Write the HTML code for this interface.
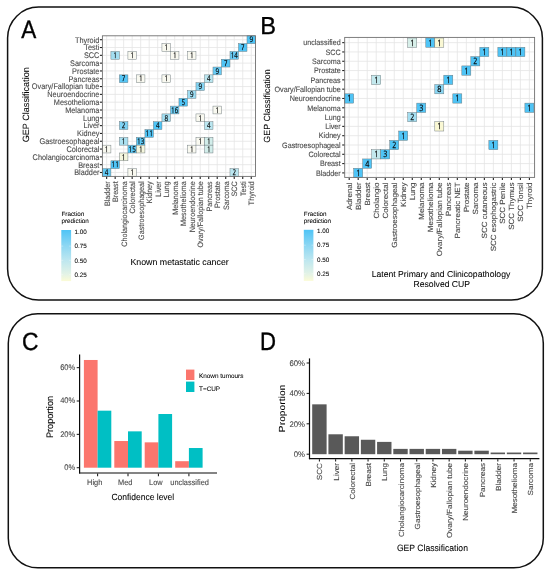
<!DOCTYPE html>
<html lang="en">
<head>
<meta charset="utf-8">
<title>GEP classification figure</title>
<style>
html,body{margin:0;padding:0;background:#fff;}
body{width:550px;height:573px;overflow:hidden;font-family:"Liberation Sans",Arial,Helvetica,sans-serif;}
svg{display:block;filter:blur(0.4px);}
</style>
</head>
<body>
<svg width="550" height="573" viewBox="0 0 550 573" font-family="'Liberation Sans', Arial, Helvetica, sans-serif" text-rendering="geometricPrecision">
<rect x="7.6" y="7.1" width="534.8" height="293" rx="31" ry="31" fill="#fff" stroke="#111" stroke-width="1.5"/>
<rect x="8.3" y="313.8" width="535" height="254.0" rx="29.5" ry="29.5" fill="#fff" stroke="#111" stroke-width="1.5"/>
<text transform="translate(21.30 37.70) scale(0.900 1.000)" font-size="25.0" text-anchor="start" fill="#000" stroke="#000" stroke-width="0.35">A</text>
<text transform="translate(260.20 34.40) scale(0.960 1.000)" font-size="24.6" text-anchor="start" fill="#000" stroke="#000" stroke-width="0.35">B</text>
<text transform="translate(22.00 349.90) scale(0.930 1.010)" font-size="24.6" text-anchor="start" fill="#000" stroke="#000" stroke-width="0.35">C</text>
<text transform="translate(260.00 349.80) scale(0.900 1.030)" font-size="24.6" text-anchor="start" fill="#000" stroke="#000" stroke-width="0.35">D</text>
<rect x="102.40" y="35.80" width="153.10" height="140.60" fill="#fff"/>
<line x1="106.65" y1="35.80" x2="106.65" y2="176.40" stroke="#e4e4e4" stroke-width="0.8"/>
<line x1="115.16" y1="35.80" x2="115.16" y2="176.40" stroke="#e4e4e4" stroke-width="0.8"/>
<line x1="123.66" y1="35.80" x2="123.66" y2="176.40" stroke="#e4e4e4" stroke-width="0.8"/>
<line x1="132.17" y1="35.80" x2="132.17" y2="176.40" stroke="#e4e4e4" stroke-width="0.8"/>
<line x1="140.68" y1="35.80" x2="140.68" y2="176.40" stroke="#e4e4e4" stroke-width="0.8"/>
<line x1="149.18" y1="35.80" x2="149.18" y2="176.40" stroke="#e4e4e4" stroke-width="0.8"/>
<line x1="157.69" y1="35.80" x2="157.69" y2="176.40" stroke="#e4e4e4" stroke-width="0.8"/>
<line x1="166.19" y1="35.80" x2="166.19" y2="176.40" stroke="#e4e4e4" stroke-width="0.8"/>
<line x1="174.70" y1="35.80" x2="174.70" y2="176.40" stroke="#e4e4e4" stroke-width="0.8"/>
<line x1="183.20" y1="35.80" x2="183.20" y2="176.40" stroke="#e4e4e4" stroke-width="0.8"/>
<line x1="191.71" y1="35.80" x2="191.71" y2="176.40" stroke="#e4e4e4" stroke-width="0.8"/>
<line x1="200.21" y1="35.80" x2="200.21" y2="176.40" stroke="#e4e4e4" stroke-width="0.8"/>
<line x1="208.72" y1="35.80" x2="208.72" y2="176.40" stroke="#e4e4e4" stroke-width="0.8"/>
<line x1="217.22" y1="35.80" x2="217.22" y2="176.40" stroke="#e4e4e4" stroke-width="0.8"/>
<line x1="225.73" y1="35.80" x2="225.73" y2="176.40" stroke="#e4e4e4" stroke-width="0.8"/>
<line x1="234.24" y1="35.80" x2="234.24" y2="176.40" stroke="#e4e4e4" stroke-width="0.8"/>
<line x1="242.74" y1="35.80" x2="242.74" y2="176.40" stroke="#e4e4e4" stroke-width="0.8"/>
<line x1="251.25" y1="35.80" x2="251.25" y2="176.40" stroke="#e4e4e4" stroke-width="0.8"/>
<line x1="102.40" y1="172.49" x2="255.50" y2="172.49" stroke="#e4e4e4" stroke-width="0.8"/>
<line x1="102.40" y1="164.68" x2="255.50" y2="164.68" stroke="#e4e4e4" stroke-width="0.8"/>
<line x1="102.40" y1="156.87" x2="255.50" y2="156.87" stroke="#e4e4e4" stroke-width="0.8"/>
<line x1="102.40" y1="149.06" x2="255.50" y2="149.06" stroke="#e4e4e4" stroke-width="0.8"/>
<line x1="102.40" y1="141.25" x2="255.50" y2="141.25" stroke="#e4e4e4" stroke-width="0.8"/>
<line x1="102.40" y1="133.44" x2="255.50" y2="133.44" stroke="#e4e4e4" stroke-width="0.8"/>
<line x1="102.40" y1="125.63" x2="255.50" y2="125.63" stroke="#e4e4e4" stroke-width="0.8"/>
<line x1="102.40" y1="117.82" x2="255.50" y2="117.82" stroke="#e4e4e4" stroke-width="0.8"/>
<line x1="102.40" y1="110.01" x2="255.50" y2="110.01" stroke="#e4e4e4" stroke-width="0.8"/>
<line x1="102.40" y1="102.19" x2="255.50" y2="102.19" stroke="#e4e4e4" stroke-width="0.8"/>
<line x1="102.40" y1="94.38" x2="255.50" y2="94.38" stroke="#e4e4e4" stroke-width="0.8"/>
<line x1="102.40" y1="86.57" x2="255.50" y2="86.57" stroke="#e4e4e4" stroke-width="0.8"/>
<line x1="102.40" y1="78.76" x2="255.50" y2="78.76" stroke="#e4e4e4" stroke-width="0.8"/>
<line x1="102.40" y1="70.95" x2="255.50" y2="70.95" stroke="#e4e4e4" stroke-width="0.8"/>
<line x1="102.40" y1="63.14" x2="255.50" y2="63.14" stroke="#e4e4e4" stroke-width="0.8"/>
<line x1="102.40" y1="55.33" x2="255.50" y2="55.33" stroke="#e4e4e4" stroke-width="0.8"/>
<line x1="102.40" y1="47.52" x2="255.50" y2="47.52" stroke="#e4e4e4" stroke-width="0.8"/>
<line x1="102.40" y1="39.71" x2="255.50" y2="39.71" stroke="#e4e4e4" stroke-width="0.8"/>
<rect x="246.99" y="35.80" width="8.51" height="7.81" fill="#4fc4f6" stroke="#687478" stroke-width="0.45"/>
<rect x="238.49" y="43.61" width="8.51" height="7.81" fill="#4fc4f6" stroke="#687478" stroke-width="0.45"/>
<rect x="161.94" y="43.61" width="8.51" height="7.81" fill="#f9f9f0" stroke="#687478" stroke-width="0.45"/>
<rect x="110.91" y="51.42" width="8.51" height="7.81" fill="#a3def1" stroke="#687478" stroke-width="0.45"/>
<rect x="127.92" y="51.42" width="8.51" height="7.81" fill="#f9f9f0" stroke="#687478" stroke-width="0.45"/>
<rect x="170.44" y="51.42" width="8.51" height="7.81" fill="#f9f9f0" stroke="#687478" stroke-width="0.45"/>
<rect x="187.46" y="51.42" width="8.51" height="7.81" fill="#f9f9f0" stroke="#687478" stroke-width="0.45"/>
<rect x="229.98" y="51.42" width="8.51" height="7.81" fill="#67cbf5" stroke="#687478" stroke-width="0.45"/>
<rect x="221.48" y="59.23" width="8.51" height="7.81" fill="#4fc4f6" stroke="#687478" stroke-width="0.45"/>
<rect x="212.97" y="67.04" width="8.51" height="7.81" fill="#67cbf5" stroke="#687478" stroke-width="0.45"/>
<rect x="119.41" y="74.86" width="8.51" height="7.81" fill="#56c6f6" stroke="#687478" stroke-width="0.45"/>
<rect x="136.42" y="74.86" width="8.51" height="7.81" fill="#f9f9f0" stroke="#687478" stroke-width="0.45"/>
<rect x="161.94" y="74.86" width="8.51" height="7.81" fill="#f9f9f0" stroke="#687478" stroke-width="0.45"/>
<rect x="204.47" y="74.86" width="8.51" height="7.81" fill="#bbe6f0" stroke="#687478" stroke-width="0.45"/>
<rect x="195.96" y="82.67" width="8.51" height="7.81" fill="#83d4f3" stroke="#687478" stroke-width="0.45"/>
<rect x="187.46" y="90.48" width="8.51" height="7.81" fill="#9cdcf2" stroke="#687478" stroke-width="0.45"/>
<rect x="178.95" y="98.29" width="8.51" height="7.81" fill="#4fc4f6" stroke="#687478" stroke-width="0.45"/>
<rect x="170.44" y="106.10" width="8.51" height="7.81" fill="#6bcdf5" stroke="#687478" stroke-width="0.45"/>
<rect x="212.97" y="106.10" width="8.51" height="7.81" fill="#f9f9f0" stroke="#687478" stroke-width="0.45"/>
<rect x="161.94" y="113.91" width="8.51" height="7.81" fill="#a3def1" stroke="#687478" stroke-width="0.45"/>
<rect x="195.96" y="113.91" width="8.51" height="7.81" fill="#f9f9f0" stroke="#687478" stroke-width="0.45"/>
<rect x="119.41" y="121.72" width="8.51" height="7.81" fill="#7ed2f4" stroke="#687478" stroke-width="0.45"/>
<rect x="153.43" y="121.72" width="8.51" height="7.81" fill="#4fc4f6" stroke="#687478" stroke-width="0.45"/>
<rect x="204.47" y="121.72" width="8.51" height="7.81" fill="#bbe6f0" stroke="#687478" stroke-width="0.45"/>
<rect x="144.93" y="129.53" width="8.51" height="7.81" fill="#4fc4f6" stroke="#687478" stroke-width="0.45"/>
<rect x="119.41" y="137.34" width="8.51" height="7.81" fill="#abe1f1" stroke="#687478" stroke-width="0.45"/>
<rect x="136.42" y="137.34" width="8.51" height="7.81" fill="#5bc8f5" stroke="#687478" stroke-width="0.45"/>
<rect x="195.96" y="137.34" width="8.51" height="7.81" fill="#f9f9f0" stroke="#687478" stroke-width="0.45"/>
<rect x="204.47" y="137.34" width="8.51" height="7.81" fill="#d2edea" stroke="#687478" stroke-width="0.45"/>
<rect x="102.40" y="145.16" width="8.51" height="7.81" fill="#f9f9f0" stroke="#687478" stroke-width="0.45"/>
<rect x="127.92" y="145.16" width="8.51" height="7.81" fill="#5bc8f5" stroke="#687478" stroke-width="0.45"/>
<rect x="136.42" y="145.16" width="8.51" height="7.81" fill="#f5f6dd" stroke="#687478" stroke-width="0.45"/>
<rect x="187.46" y="145.16" width="8.51" height="7.81" fill="#f9f9f0" stroke="#687478" stroke-width="0.45"/>
<rect x="204.47" y="145.16" width="8.51" height="7.81" fill="#d2edea" stroke="#687478" stroke-width="0.45"/>
<rect x="119.41" y="152.97" width="8.51" height="7.81" fill="#f5f6dd" stroke="#687478" stroke-width="0.45"/>
<rect x="110.91" y="160.78" width="8.51" height="7.81" fill="#4fc4f6" stroke="#687478" stroke-width="0.45"/>
<rect x="102.40" y="168.59" width="8.51" height="7.81" fill="#62caf5" stroke="#687478" stroke-width="0.45"/>
<rect x="127.92" y="168.59" width="8.51" height="7.81" fill="#f9f9f0" stroke="#687478" stroke-width="0.45"/>
<rect x="229.98" y="168.59" width="8.51" height="7.81" fill="#bbe6f0" stroke="#687478" stroke-width="0.45"/>
<text transform="translate(251.25 42.40) scale(0.780 1.000)" font-size="7.6" text-anchor="middle" fill="#0a0a0a" font-family="'NanumGothic', 'Liberation Sans', sans-serif" stroke="#0a0a0a" stroke-width="0.25">9</text>
<text transform="translate(242.74 50.21) scale(0.780 1.000)" font-size="7.6" text-anchor="middle" fill="#0a0a0a" font-family="'NanumGothic', 'Liberation Sans', sans-serif" stroke="#0a0a0a" stroke-width="0.25">7</text>
<text transform="translate(166.19 50.21) scale(0.780 1.000)" font-size="7.6" text-anchor="middle" fill="#0a0a0a" font-family="'NanumGothic', 'Liberation Sans', sans-serif" stroke="#0a0a0a" stroke-width="0.25">1</text>
<text transform="translate(115.16 58.03) scale(0.780 1.000)" font-size="7.6" text-anchor="middle" fill="#0a0a0a" font-family="'NanumGothic', 'Liberation Sans', sans-serif" stroke="#0a0a0a" stroke-width="0.25">1</text>
<text transform="translate(132.17 58.03) scale(0.780 1.000)" font-size="7.6" text-anchor="middle" fill="#0a0a0a" font-family="'NanumGothic', 'Liberation Sans', sans-serif" stroke="#0a0a0a" stroke-width="0.25">1</text>
<text transform="translate(174.70 58.03) scale(0.780 1.000)" font-size="7.6" text-anchor="middle" fill="#0a0a0a" font-family="'NanumGothic', 'Liberation Sans', sans-serif" stroke="#0a0a0a" stroke-width="0.25">1</text>
<text transform="translate(191.71 58.03) scale(0.780 1.000)" font-size="7.6" text-anchor="middle" fill="#0a0a0a" font-family="'NanumGothic', 'Liberation Sans', sans-serif" stroke="#0a0a0a" stroke-width="0.25">1</text>
<text transform="translate(234.24 58.03) scale(0.780 1.000)" font-size="7.6" text-anchor="middle" fill="#0a0a0a" font-family="'NanumGothic', 'Liberation Sans', sans-serif" stroke="#0a0a0a" stroke-width="0.25">14</text>
<text transform="translate(225.73 65.84) scale(0.780 1.000)" font-size="7.6" text-anchor="middle" fill="#0a0a0a" font-family="'NanumGothic', 'Liberation Sans', sans-serif" stroke="#0a0a0a" stroke-width="0.25">7</text>
<text transform="translate(217.22 73.65) scale(0.780 1.000)" font-size="7.6" text-anchor="middle" fill="#0a0a0a" font-family="'NanumGothic', 'Liberation Sans', sans-serif" stroke="#0a0a0a" stroke-width="0.25">9</text>
<text transform="translate(123.66 81.46) scale(0.780 1.000)" font-size="7.6" text-anchor="middle" fill="#0a0a0a" font-family="'NanumGothic', 'Liberation Sans', sans-serif" stroke="#0a0a0a" stroke-width="0.25">7</text>
<text transform="translate(140.68 81.46) scale(0.780 1.000)" font-size="7.6" text-anchor="middle" fill="#0a0a0a" font-family="'NanumGothic', 'Liberation Sans', sans-serif" stroke="#0a0a0a" stroke-width="0.25">1</text>
<text transform="translate(166.19 81.46) scale(0.780 1.000)" font-size="7.6" text-anchor="middle" fill="#0a0a0a" font-family="'NanumGothic', 'Liberation Sans', sans-serif" stroke="#0a0a0a" stroke-width="0.25">1</text>
<text transform="translate(208.72 81.46) scale(0.780 1.000)" font-size="7.6" text-anchor="middle" fill="#0a0a0a" font-family="'NanumGothic', 'Liberation Sans', sans-serif" stroke="#0a0a0a" stroke-width="0.25">4</text>
<text transform="translate(200.21 89.27) scale(0.780 1.000)" font-size="7.6" text-anchor="middle" fill="#0a0a0a" font-family="'NanumGothic', 'Liberation Sans', sans-serif" stroke="#0a0a0a" stroke-width="0.25">9</text>
<text transform="translate(191.71 97.08) scale(0.780 1.000)" font-size="7.6" text-anchor="middle" fill="#0a0a0a" font-family="'NanumGothic', 'Liberation Sans', sans-serif" stroke="#0a0a0a" stroke-width="0.25">9</text>
<text transform="translate(183.20 104.89) scale(0.780 1.000)" font-size="7.6" text-anchor="middle" fill="#0a0a0a" font-family="'NanumGothic', 'Liberation Sans', sans-serif" stroke="#0a0a0a" stroke-width="0.25">5</text>
<text transform="translate(174.70 112.70) scale(0.780 1.000)" font-size="7.6" text-anchor="middle" fill="#0a0a0a" font-family="'NanumGothic', 'Liberation Sans', sans-serif" stroke="#0a0a0a" stroke-width="0.25">16</text>
<text transform="translate(217.22 112.70) scale(0.780 1.000)" font-size="7.6" text-anchor="middle" fill="#0a0a0a" font-family="'NanumGothic', 'Liberation Sans', sans-serif" stroke="#0a0a0a" stroke-width="0.25">1</text>
<text transform="translate(166.19 120.51) scale(0.780 1.000)" font-size="7.6" text-anchor="middle" fill="#0a0a0a" font-family="'NanumGothic', 'Liberation Sans', sans-serif" stroke="#0a0a0a" stroke-width="0.25">8</text>
<text transform="translate(200.21 120.51) scale(0.780 1.000)" font-size="7.6" text-anchor="middle" fill="#0a0a0a" font-family="'NanumGothic', 'Liberation Sans', sans-serif" stroke="#0a0a0a" stroke-width="0.25">1</text>
<text transform="translate(123.66 128.33) scale(0.780 1.000)" font-size="7.6" text-anchor="middle" fill="#0a0a0a" font-family="'NanumGothic', 'Liberation Sans', sans-serif" stroke="#0a0a0a" stroke-width="0.25">2</text>
<text transform="translate(157.69 128.33) scale(0.780 1.000)" font-size="7.6" text-anchor="middle" fill="#0a0a0a" font-family="'NanumGothic', 'Liberation Sans', sans-serif" stroke="#0a0a0a" stroke-width="0.25">4</text>
<text transform="translate(208.72 128.33) scale(0.780 1.000)" font-size="7.6" text-anchor="middle" fill="#0a0a0a" font-family="'NanumGothic', 'Liberation Sans', sans-serif" stroke="#0a0a0a" stroke-width="0.25">4</text>
<text transform="translate(149.18 136.14) scale(0.780 1.000)" font-size="7.6" text-anchor="middle" fill="#0a0a0a" font-family="'NanumGothic', 'Liberation Sans', sans-serif" stroke="#0a0a0a" stroke-width="0.25">11</text>
<text transform="translate(123.66 143.95) scale(0.780 1.000)" font-size="7.6" text-anchor="middle" fill="#0a0a0a" font-family="'NanumGothic', 'Liberation Sans', sans-serif" stroke="#0a0a0a" stroke-width="0.25">1</text>
<text transform="translate(140.68 143.95) scale(0.780 1.000)" font-size="7.6" text-anchor="middle" fill="#0a0a0a" font-family="'NanumGothic', 'Liberation Sans', sans-serif" stroke="#0a0a0a" stroke-width="0.25">13</text>
<text transform="translate(200.21 143.95) scale(0.780 1.000)" font-size="7.6" text-anchor="middle" fill="#0a0a0a" font-family="'NanumGothic', 'Liberation Sans', sans-serif" stroke="#0a0a0a" stroke-width="0.25">1</text>
<text transform="translate(208.72 143.95) scale(0.780 1.000)" font-size="7.6" text-anchor="middle" fill="#0a0a0a" font-family="'NanumGothic', 'Liberation Sans', sans-serif" stroke="#0a0a0a" stroke-width="0.25">1</text>
<text transform="translate(106.65 151.76) scale(0.780 1.000)" font-size="7.6" text-anchor="middle" fill="#0a0a0a" font-family="'NanumGothic', 'Liberation Sans', sans-serif" stroke="#0a0a0a" stroke-width="0.25">1</text>
<text transform="translate(132.17 151.76) scale(0.780 1.000)" font-size="7.6" text-anchor="middle" fill="#0a0a0a" font-family="'NanumGothic', 'Liberation Sans', sans-serif" stroke="#0a0a0a" stroke-width="0.25">15</text>
<text transform="translate(140.68 151.76) scale(0.780 1.000)" font-size="7.6" text-anchor="middle" fill="#0a0a0a" font-family="'NanumGothic', 'Liberation Sans', sans-serif" stroke="#0a0a0a" stroke-width="0.25">1</text>
<text transform="translate(191.71 151.76) scale(0.780 1.000)" font-size="7.6" text-anchor="middle" fill="#0a0a0a" font-family="'NanumGothic', 'Liberation Sans', sans-serif" stroke="#0a0a0a" stroke-width="0.25">1</text>
<text transform="translate(208.72 151.76) scale(0.780 1.000)" font-size="7.6" text-anchor="middle" fill="#0a0a0a" font-family="'NanumGothic', 'Liberation Sans', sans-serif" stroke="#0a0a0a" stroke-width="0.25">1</text>
<text transform="translate(123.66 159.57) scale(0.780 1.000)" font-size="7.6" text-anchor="middle" fill="#0a0a0a" font-family="'NanumGothic', 'Liberation Sans', sans-serif" stroke="#0a0a0a" stroke-width="0.25">1</text>
<text transform="translate(115.16 167.38) scale(0.780 1.000)" font-size="7.6" text-anchor="middle" fill="#0a0a0a" font-family="'NanumGothic', 'Liberation Sans', sans-serif" stroke="#0a0a0a" stroke-width="0.25">11</text>
<text transform="translate(106.65 175.19) scale(0.780 1.000)" font-size="7.6" text-anchor="middle" fill="#0a0a0a" font-family="'NanumGothic', 'Liberation Sans', sans-serif" stroke="#0a0a0a" stroke-width="0.25">4</text>
<text transform="translate(132.17 175.19) scale(0.780 1.000)" font-size="7.6" text-anchor="middle" fill="#0a0a0a" font-family="'NanumGothic', 'Liberation Sans', sans-serif" stroke="#0a0a0a" stroke-width="0.25">1</text>
<text transform="translate(234.24 175.19) scale(0.780 1.000)" font-size="7.6" text-anchor="middle" fill="#0a0a0a" font-family="'NanumGothic', 'Liberation Sans', sans-serif" stroke="#0a0a0a" stroke-width="0.25">2</text>
<rect x="102.40" y="35.80" width="153.10" height="140.60" fill="none" stroke="#707070" stroke-width="0.9"/>
<line x1="99.90" y1="172.49" x2="102.00" y2="172.49" stroke="#222222" stroke-width="1.1"/>
<text transform="translate(99.40 175.33) scale(0.905 1.000)" font-size="8.1" text-anchor="end" fill="#484848" stroke="#484848" stroke-width="0.1">Bladder</text>
<line x1="99.90" y1="164.68" x2="102.00" y2="164.68" stroke="#222222" stroke-width="1.1"/>
<text transform="translate(99.40 167.52) scale(0.905 1.000)" font-size="8.1" text-anchor="end" fill="#484848" stroke="#484848" stroke-width="0.1">Breast</text>
<line x1="99.90" y1="156.87" x2="102.00" y2="156.87" stroke="#222222" stroke-width="1.1"/>
<text transform="translate(99.40 159.71) scale(0.905 1.000)" font-size="8.1" text-anchor="end" fill="#484848" stroke="#484848" stroke-width="0.1">Cholangiocarcinoma</text>
<line x1="99.90" y1="149.06" x2="102.00" y2="149.06" stroke="#222222" stroke-width="1.1"/>
<text transform="translate(99.40 151.90) scale(0.905 1.000)" font-size="8.1" text-anchor="end" fill="#484848" stroke="#484848" stroke-width="0.1">Colorectal</text>
<line x1="99.90" y1="141.25" x2="102.00" y2="141.25" stroke="#222222" stroke-width="1.1"/>
<text transform="translate(99.40 144.09) scale(0.905 1.000)" font-size="8.1" text-anchor="end" fill="#484848" stroke="#484848" stroke-width="0.1">Gastroesophageal</text>
<line x1="99.90" y1="133.44" x2="102.00" y2="133.44" stroke="#222222" stroke-width="1.1"/>
<text transform="translate(99.40 136.27) scale(0.905 1.000)" font-size="8.1" text-anchor="end" fill="#484848" stroke="#484848" stroke-width="0.1">Kidney</text>
<line x1="99.90" y1="125.63" x2="102.00" y2="125.63" stroke="#222222" stroke-width="1.1"/>
<text transform="translate(99.40 128.46) scale(0.905 1.000)" font-size="8.1" text-anchor="end" fill="#484848" stroke="#484848" stroke-width="0.1">Liver</text>
<line x1="99.90" y1="117.82" x2="102.00" y2="117.82" stroke="#222222" stroke-width="1.1"/>
<text transform="translate(99.40 120.65) scale(0.905 1.000)" font-size="8.1" text-anchor="end" fill="#484848" stroke="#484848" stroke-width="0.1">Lung</text>
<line x1="99.90" y1="110.01" x2="102.00" y2="110.01" stroke="#222222" stroke-width="1.1"/>
<text transform="translate(99.40 112.84) scale(0.905 1.000)" font-size="8.1" text-anchor="end" fill="#484848" stroke="#484848" stroke-width="0.1">Melanoma</text>
<line x1="99.90" y1="102.19" x2="102.00" y2="102.19" stroke="#222222" stroke-width="1.1"/>
<text transform="translate(99.40 105.03) scale(0.905 1.000)" font-size="8.1" text-anchor="end" fill="#484848" stroke="#484848" stroke-width="0.1">Mesothelioma</text>
<line x1="99.90" y1="94.38" x2="102.00" y2="94.38" stroke="#222222" stroke-width="1.1"/>
<text transform="translate(99.40 97.22) scale(0.905 1.000)" font-size="8.1" text-anchor="end" fill="#484848" stroke="#484848" stroke-width="0.1">Neuroendocrine</text>
<line x1="99.90" y1="86.57" x2="102.00" y2="86.57" stroke="#222222" stroke-width="1.1"/>
<text transform="translate(99.40 89.41) scale(0.905 1.000)" font-size="8.1" text-anchor="end" fill="#484848" stroke="#484848" stroke-width="0.1">Ovary/Fallopian tube</text>
<line x1="99.90" y1="78.76" x2="102.00" y2="78.76" stroke="#222222" stroke-width="1.1"/>
<text transform="translate(99.40 81.60) scale(0.905 1.000)" font-size="8.1" text-anchor="end" fill="#484848" stroke="#484848" stroke-width="0.1">Pancreas</text>
<line x1="99.90" y1="70.95" x2="102.00" y2="70.95" stroke="#222222" stroke-width="1.1"/>
<text transform="translate(99.40 73.78) scale(0.905 1.000)" font-size="8.1" text-anchor="end" fill="#484848" stroke="#484848" stroke-width="0.1">Prostate</text>
<line x1="99.90" y1="63.14" x2="102.00" y2="63.14" stroke="#222222" stroke-width="1.1"/>
<text transform="translate(99.40 65.97) scale(0.905 1.000)" font-size="8.1" text-anchor="end" fill="#484848" stroke="#484848" stroke-width="0.1">Sarcoma</text>
<line x1="99.90" y1="55.33" x2="102.00" y2="55.33" stroke="#222222" stroke-width="1.1"/>
<text transform="translate(99.40 58.16) scale(0.905 1.000)" font-size="8.1" text-anchor="end" fill="#484848" stroke="#484848" stroke-width="0.1">SCC</text>
<line x1="99.90" y1="47.52" x2="102.00" y2="47.52" stroke="#222222" stroke-width="1.1"/>
<text transform="translate(99.40 50.35) scale(0.905 1.000)" font-size="8.1" text-anchor="end" fill="#484848" stroke="#484848" stroke-width="0.1">Testi</text>
<line x1="99.90" y1="39.71" x2="102.00" y2="39.71" stroke="#222222" stroke-width="1.1"/>
<text transform="translate(99.40 42.54) scale(0.905 1.000)" font-size="8.1" text-anchor="end" fill="#484848" stroke="#484848" stroke-width="0.1">Thyroid</text>
<line x1="106.65" y1="176.80" x2="106.65" y2="178.90" stroke="#222222" stroke-width="1.1"/>
<text transform="translate(109.54 181.30) rotate(-90) scale(0.920 1.000)" font-size="7.8" text-anchor="end" fill="#484848" stroke="#484848" stroke-width="0.1">Bladder</text>
<line x1="115.16" y1="176.80" x2="115.16" y2="178.90" stroke="#222222" stroke-width="1.1"/>
<text transform="translate(118.04 181.30) rotate(-90) scale(0.920 1.000)" font-size="7.8" text-anchor="end" fill="#484848" stroke="#484848" stroke-width="0.1">Breast</text>
<line x1="123.66" y1="176.80" x2="123.66" y2="178.90" stroke="#222222" stroke-width="1.1"/>
<text transform="translate(126.55 181.30) rotate(-90) scale(0.920 1.000)" font-size="7.8" text-anchor="end" fill="#484848" stroke="#484848" stroke-width="0.1">Cholangiocarcinoma</text>
<line x1="132.17" y1="176.80" x2="132.17" y2="178.90" stroke="#222222" stroke-width="1.1"/>
<text transform="translate(135.06 181.30) rotate(-90) scale(0.920 1.000)" font-size="7.8" text-anchor="end" fill="#484848" stroke="#484848" stroke-width="0.1">Colorectal</text>
<line x1="140.68" y1="176.80" x2="140.68" y2="178.90" stroke="#222222" stroke-width="1.1"/>
<text transform="translate(143.56 181.30) rotate(-90) scale(0.920 1.000)" font-size="7.8" text-anchor="end" fill="#484848" stroke="#484848" stroke-width="0.1">Gastroesophageal</text>
<line x1="149.18" y1="176.80" x2="149.18" y2="178.90" stroke="#222222" stroke-width="1.1"/>
<text transform="translate(152.07 181.30) rotate(-90) scale(0.920 1.000)" font-size="7.8" text-anchor="end" fill="#484848" stroke="#484848" stroke-width="0.1">Kidney</text>
<line x1="157.69" y1="176.80" x2="157.69" y2="178.90" stroke="#222222" stroke-width="1.1"/>
<text transform="translate(160.57 181.30) rotate(-90) scale(0.920 1.000)" font-size="7.8" text-anchor="end" fill="#484848" stroke="#484848" stroke-width="0.1">Liver</text>
<line x1="166.19" y1="176.80" x2="166.19" y2="178.90" stroke="#222222" stroke-width="1.1"/>
<text transform="translate(169.08 181.30) rotate(-90) scale(0.920 1.000)" font-size="7.8" text-anchor="end" fill="#484848" stroke="#484848" stroke-width="0.1">Lung</text>
<line x1="174.70" y1="176.80" x2="174.70" y2="178.90" stroke="#222222" stroke-width="1.1"/>
<text transform="translate(177.58 181.30) rotate(-90) scale(0.920 1.000)" font-size="7.8" text-anchor="end" fill="#484848" stroke="#484848" stroke-width="0.1">Melanoma</text>
<line x1="183.20" y1="176.80" x2="183.20" y2="178.90" stroke="#222222" stroke-width="1.1"/>
<text transform="translate(186.09 181.30) rotate(-90) scale(0.920 1.000)" font-size="7.8" text-anchor="end" fill="#484848" stroke="#484848" stroke-width="0.1">Mesothelioma</text>
<line x1="191.71" y1="176.80" x2="191.71" y2="178.90" stroke="#222222" stroke-width="1.1"/>
<text transform="translate(194.59 181.30) rotate(-90) scale(0.920 1.000)" font-size="7.8" text-anchor="end" fill="#484848" stroke="#484848" stroke-width="0.1">Neuroendocrine</text>
<line x1="200.21" y1="176.80" x2="200.21" y2="178.90" stroke="#222222" stroke-width="1.1"/>
<text transform="translate(203.10 181.30) rotate(-90) scale(0.920 1.000)" font-size="7.8" text-anchor="end" fill="#484848" stroke="#484848" stroke-width="0.1">Ovary/Fallopian tube</text>
<line x1="208.72" y1="176.80" x2="208.72" y2="178.90" stroke="#222222" stroke-width="1.1"/>
<text transform="translate(211.61 181.30) rotate(-90) scale(0.920 1.000)" font-size="7.8" text-anchor="end" fill="#484848" stroke="#484848" stroke-width="0.1">Pancreas</text>
<line x1="217.22" y1="176.80" x2="217.22" y2="178.90" stroke="#222222" stroke-width="1.1"/>
<text transform="translate(220.11 181.30) rotate(-90) scale(0.920 1.000)" font-size="7.8" text-anchor="end" fill="#484848" stroke="#484848" stroke-width="0.1">Prostate</text>
<line x1="225.73" y1="176.80" x2="225.73" y2="178.90" stroke="#222222" stroke-width="1.1"/>
<text transform="translate(228.62 181.30) rotate(-90) scale(0.920 1.000)" font-size="7.8" text-anchor="end" fill="#484848" stroke="#484848" stroke-width="0.1">Sarcoma</text>
<line x1="234.24" y1="176.80" x2="234.24" y2="178.90" stroke="#222222" stroke-width="1.1"/>
<text transform="translate(237.12 181.30) rotate(-90) scale(0.920 1.000)" font-size="7.8" text-anchor="end" fill="#484848" stroke="#484848" stroke-width="0.1">SCC</text>
<line x1="242.74" y1="176.80" x2="242.74" y2="178.90" stroke="#222222" stroke-width="1.1"/>
<text transform="translate(245.63 181.30) rotate(-90) scale(0.920 1.000)" font-size="7.8" text-anchor="end" fill="#484848" stroke="#484848" stroke-width="0.1">Testi</text>
<line x1="251.25" y1="176.80" x2="251.25" y2="178.90" stroke="#222222" stroke-width="1.1"/>
<text transform="translate(254.13 181.30) rotate(-90) scale(0.920 1.000)" font-size="7.8" text-anchor="end" fill="#484848" stroke="#484848" stroke-width="0.1">Thyroid</text>
<rect x="344.70" y="37.40" width="189.90" height="140.00" fill="#fff"/>
<line x1="349.20" y1="37.40" x2="349.20" y2="177.40" stroke="#e4e4e4" stroke-width="0.8"/>
<line x1="358.21" y1="37.40" x2="358.21" y2="177.40" stroke="#e4e4e4" stroke-width="0.8"/>
<line x1="367.22" y1="37.40" x2="367.22" y2="177.40" stroke="#e4e4e4" stroke-width="0.8"/>
<line x1="376.23" y1="37.40" x2="376.23" y2="177.40" stroke="#e4e4e4" stroke-width="0.8"/>
<line x1="385.24" y1="37.40" x2="385.24" y2="177.40" stroke="#e4e4e4" stroke-width="0.8"/>
<line x1="394.25" y1="37.40" x2="394.25" y2="177.40" stroke="#e4e4e4" stroke-width="0.8"/>
<line x1="403.26" y1="37.40" x2="403.26" y2="177.40" stroke="#e4e4e4" stroke-width="0.8"/>
<line x1="412.27" y1="37.40" x2="412.27" y2="177.40" stroke="#e4e4e4" stroke-width="0.8"/>
<line x1="421.28" y1="37.40" x2="421.28" y2="177.40" stroke="#e4e4e4" stroke-width="0.8"/>
<line x1="430.29" y1="37.40" x2="430.29" y2="177.40" stroke="#e4e4e4" stroke-width="0.8"/>
<line x1="439.30" y1="37.40" x2="439.30" y2="177.40" stroke="#e4e4e4" stroke-width="0.8"/>
<line x1="448.31" y1="37.40" x2="448.31" y2="177.40" stroke="#e4e4e4" stroke-width="0.8"/>
<line x1="457.32" y1="37.40" x2="457.32" y2="177.40" stroke="#e4e4e4" stroke-width="0.8"/>
<line x1="466.33" y1="37.40" x2="466.33" y2="177.40" stroke="#e4e4e4" stroke-width="0.8"/>
<line x1="475.34" y1="37.40" x2="475.34" y2="177.40" stroke="#e4e4e4" stroke-width="0.8"/>
<line x1="484.35" y1="37.40" x2="484.35" y2="177.40" stroke="#e4e4e4" stroke-width="0.8"/>
<line x1="493.36" y1="37.40" x2="493.36" y2="177.40" stroke="#e4e4e4" stroke-width="0.8"/>
<line x1="502.37" y1="37.40" x2="502.37" y2="177.40" stroke="#e4e4e4" stroke-width="0.8"/>
<line x1="511.38" y1="37.40" x2="511.38" y2="177.40" stroke="#e4e4e4" stroke-width="0.8"/>
<line x1="520.39" y1="37.40" x2="520.39" y2="177.40" stroke="#e4e4e4" stroke-width="0.8"/>
<line x1="529.40" y1="37.40" x2="529.40" y2="177.40" stroke="#e4e4e4" stroke-width="0.8"/>
<line x1="344.70" y1="172.90" x2="534.60" y2="172.90" stroke="#e4e4e4" stroke-width="0.8"/>
<line x1="344.70" y1="163.59" x2="534.60" y2="163.59" stroke="#e4e4e4" stroke-width="0.8"/>
<line x1="344.70" y1="154.29" x2="534.60" y2="154.29" stroke="#e4e4e4" stroke-width="0.8"/>
<line x1="344.70" y1="144.99" x2="534.60" y2="144.99" stroke="#e4e4e4" stroke-width="0.8"/>
<line x1="344.70" y1="135.69" x2="534.60" y2="135.69" stroke="#e4e4e4" stroke-width="0.8"/>
<line x1="344.70" y1="126.38" x2="534.60" y2="126.38" stroke="#e4e4e4" stroke-width="0.8"/>
<line x1="344.70" y1="117.08" x2="534.60" y2="117.08" stroke="#e4e4e4" stroke-width="0.8"/>
<line x1="344.70" y1="107.78" x2="534.60" y2="107.78" stroke="#e4e4e4" stroke-width="0.8"/>
<line x1="344.70" y1="98.47" x2="534.60" y2="98.47" stroke="#e4e4e4" stroke-width="0.8"/>
<line x1="344.70" y1="89.17" x2="534.60" y2="89.17" stroke="#e4e4e4" stroke-width="0.8"/>
<line x1="344.70" y1="79.86" x2="534.60" y2="79.86" stroke="#e4e4e4" stroke-width="0.8"/>
<line x1="344.70" y1="70.56" x2="534.60" y2="70.56" stroke="#e4e4e4" stroke-width="0.8"/>
<line x1="344.70" y1="61.26" x2="534.60" y2="61.26" stroke="#e4e4e4" stroke-width="0.8"/>
<line x1="344.70" y1="51.95" x2="534.60" y2="51.95" stroke="#e4e4e4" stroke-width="0.8"/>
<line x1="344.70" y1="42.65" x2="534.60" y2="42.65" stroke="#e4e4e4" stroke-width="0.8"/>
<rect x="407.77" y="38.00" width="9.01" height="9.30" fill="#d7efe9" stroke="#687478" stroke-width="0.45"/>
<rect x="425.79" y="38.00" width="9.01" height="9.30" fill="#4fc4f6" stroke="#687478" stroke-width="0.45"/>
<rect x="434.80" y="38.00" width="9.01" height="9.30" fill="#faf8d4" stroke="#687478" stroke-width="0.45"/>
<rect x="479.84" y="47.30" width="9.01" height="9.30" fill="#4fc4f6" stroke="#687478" stroke-width="0.45"/>
<rect x="497.86" y="47.30" width="9.01" height="9.30" fill="#4fc4f6" stroke="#687478" stroke-width="0.45"/>
<rect x="506.87" y="47.30" width="9.01" height="9.30" fill="#4fc4f6" stroke="#687478" stroke-width="0.45"/>
<rect x="515.88" y="47.30" width="9.01" height="9.30" fill="#4fc4f6" stroke="#687478" stroke-width="0.45"/>
<rect x="470.83" y="56.61" width="9.01" height="9.30" fill="#4fc4f6" stroke="#687478" stroke-width="0.45"/>
<rect x="461.82" y="65.91" width="9.01" height="9.30" fill="#4fc4f6" stroke="#687478" stroke-width="0.45"/>
<rect x="371.73" y="75.21" width="9.01" height="9.30" fill="#c3e9ee" stroke="#687478" stroke-width="0.45"/>
<rect x="443.80" y="75.21" width="9.01" height="9.30" fill="#4fc4f6" stroke="#687478" stroke-width="0.45"/>
<rect x="434.80" y="84.52" width="9.01" height="9.30" fill="#8ad6f3" stroke="#687478" stroke-width="0.45"/>
<rect x="344.70" y="93.82" width="9.01" height="9.30" fill="#4fc4f6" stroke="#687478" stroke-width="0.45"/>
<rect x="452.81" y="93.82" width="9.01" height="9.30" fill="#4fc4f6" stroke="#687478" stroke-width="0.45"/>
<rect x="416.78" y="103.12" width="9.01" height="9.30" fill="#4fc4f6" stroke="#687478" stroke-width="0.45"/>
<rect x="524.89" y="103.12" width="9.01" height="9.30" fill="#4fc4f6" stroke="#687478" stroke-width="0.45"/>
<rect x="407.77" y="112.43" width="9.01" height="9.30" fill="#a3def1" stroke="#687478" stroke-width="0.45"/>
<rect x="434.80" y="121.73" width="9.01" height="9.30" fill="#faf8d4" stroke="#687478" stroke-width="0.45"/>
<rect x="398.76" y="131.03" width="9.01" height="9.30" fill="#4fc4f6" stroke="#687478" stroke-width="0.45"/>
<rect x="389.75" y="140.34" width="9.01" height="9.30" fill="#4fc4f6" stroke="#687478" stroke-width="0.45"/>
<rect x="488.85" y="140.34" width="9.01" height="9.30" fill="#4fc4f6" stroke="#687478" stroke-width="0.45"/>
<rect x="371.73" y="149.64" width="9.01" height="9.30" fill="#c3e9ee" stroke="#687478" stroke-width="0.45"/>
<rect x="380.74" y="149.64" width="9.01" height="9.30" fill="#4fc4f6" stroke="#687478" stroke-width="0.45"/>
<rect x="362.72" y="158.94" width="9.01" height="9.30" fill="#4fc4f6" stroke="#687478" stroke-width="0.45"/>
<rect x="353.71" y="168.25" width="9.01" height="9.30" fill="#4fc4f6" stroke="#687478" stroke-width="0.45"/>
<text transform="translate(412.27 45.62) scale(0.900 1.100)" font-size="7.6" text-anchor="middle" fill="#0a0a0a" font-family="'NanumGothic', 'Liberation Sans', sans-serif" stroke="#0a0a0a" stroke-width="0.25">1</text>
<text transform="translate(430.29 45.62) scale(0.900 1.100)" font-size="7.6" text-anchor="middle" fill="#0a0a0a" font-family="'NanumGothic', 'Liberation Sans', sans-serif" stroke="#0a0a0a" stroke-width="0.25">1</text>
<text transform="translate(439.30 45.62) scale(0.900 1.100)" font-size="7.6" text-anchor="middle" fill="#0a0a0a" font-family="'NanumGothic', 'Liberation Sans', sans-serif" stroke="#0a0a0a" stroke-width="0.25">1</text>
<text transform="translate(484.35 54.92) scale(0.900 1.100)" font-size="7.6" text-anchor="middle" fill="#0a0a0a" font-family="'NanumGothic', 'Liberation Sans', sans-serif" stroke="#0a0a0a" stroke-width="0.25">1</text>
<text transform="translate(502.37 54.92) scale(0.900 1.100)" font-size="7.6" text-anchor="middle" fill="#0a0a0a" font-family="'NanumGothic', 'Liberation Sans', sans-serif" stroke="#0a0a0a" stroke-width="0.25">1</text>
<text transform="translate(511.38 54.92) scale(0.900 1.100)" font-size="7.6" text-anchor="middle" fill="#0a0a0a" font-family="'NanumGothic', 'Liberation Sans', sans-serif" stroke="#0a0a0a" stroke-width="0.25">1</text>
<text transform="translate(520.39 54.92) scale(0.900 1.100)" font-size="7.6" text-anchor="middle" fill="#0a0a0a" font-family="'NanumGothic', 'Liberation Sans', sans-serif" stroke="#0a0a0a" stroke-width="0.25">1</text>
<text transform="translate(475.34 64.23) scale(0.900 1.100)" font-size="7.6" text-anchor="middle" fill="#0a0a0a" font-family="'NanumGothic', 'Liberation Sans', sans-serif" stroke="#0a0a0a" stroke-width="0.25">2</text>
<text transform="translate(466.33 73.53) scale(0.900 1.100)" font-size="7.6" text-anchor="middle" fill="#0a0a0a" font-family="'NanumGothic', 'Liberation Sans', sans-serif" stroke="#0a0a0a" stroke-width="0.25">1</text>
<text transform="translate(376.23 82.83) scale(0.900 1.100)" font-size="7.6" text-anchor="middle" fill="#0a0a0a" font-family="'NanumGothic', 'Liberation Sans', sans-serif" stroke="#0a0a0a" stroke-width="0.25">1</text>
<text transform="translate(448.31 82.83) scale(0.900 1.100)" font-size="7.6" text-anchor="middle" fill="#0a0a0a" font-family="'NanumGothic', 'Liberation Sans', sans-serif" stroke="#0a0a0a" stroke-width="0.25">1</text>
<text transform="translate(439.30 92.14) scale(0.900 1.100)" font-size="7.6" text-anchor="middle" fill="#0a0a0a" font-family="'NanumGothic', 'Liberation Sans', sans-serif" stroke="#0a0a0a" stroke-width="0.25">8</text>
<text transform="translate(349.20 101.44) scale(0.900 1.100)" font-size="7.6" text-anchor="middle" fill="#0a0a0a" font-family="'NanumGothic', 'Liberation Sans', sans-serif" stroke="#0a0a0a" stroke-width="0.25">1</text>
<text transform="translate(457.32 101.44) scale(0.900 1.100)" font-size="7.6" text-anchor="middle" fill="#0a0a0a" font-family="'NanumGothic', 'Liberation Sans', sans-serif" stroke="#0a0a0a" stroke-width="0.25">1</text>
<text transform="translate(421.28 110.74) scale(0.900 1.100)" font-size="7.6" text-anchor="middle" fill="#0a0a0a" font-family="'NanumGothic', 'Liberation Sans', sans-serif" stroke="#0a0a0a" stroke-width="0.25">3</text>
<text transform="translate(529.40 110.74) scale(0.900 1.100)" font-size="7.6" text-anchor="middle" fill="#0a0a0a" font-family="'NanumGothic', 'Liberation Sans', sans-serif" stroke="#0a0a0a" stroke-width="0.25">1</text>
<text transform="translate(412.27 120.05) scale(0.900 1.100)" font-size="7.6" text-anchor="middle" fill="#0a0a0a" font-family="'NanumGothic', 'Liberation Sans', sans-serif" stroke="#0a0a0a" stroke-width="0.25">2</text>
<text transform="translate(439.30 129.35) scale(0.900 1.100)" font-size="7.6" text-anchor="middle" fill="#0a0a0a" font-family="'NanumGothic', 'Liberation Sans', sans-serif" stroke="#0a0a0a" stroke-width="0.25">1</text>
<text transform="translate(403.26 138.65) scale(0.900 1.100)" font-size="7.6" text-anchor="middle" fill="#0a0a0a" font-family="'NanumGothic', 'Liberation Sans', sans-serif" stroke="#0a0a0a" stroke-width="0.25">1</text>
<text transform="translate(394.25 147.96) scale(0.900 1.100)" font-size="7.6" text-anchor="middle" fill="#0a0a0a" font-family="'NanumGothic', 'Liberation Sans', sans-serif" stroke="#0a0a0a" stroke-width="0.25">2</text>
<text transform="translate(493.36 147.96) scale(0.900 1.100)" font-size="7.6" text-anchor="middle" fill="#0a0a0a" font-family="'NanumGothic', 'Liberation Sans', sans-serif" stroke="#0a0a0a" stroke-width="0.25">1</text>
<text transform="translate(376.23 157.26) scale(0.900 1.100)" font-size="7.6" text-anchor="middle" fill="#0a0a0a" font-family="'NanumGothic', 'Liberation Sans', sans-serif" stroke="#0a0a0a" stroke-width="0.25">1</text>
<text transform="translate(385.24 157.26) scale(0.900 1.100)" font-size="7.6" text-anchor="middle" fill="#0a0a0a" font-family="'NanumGothic', 'Liberation Sans', sans-serif" stroke="#0a0a0a" stroke-width="0.25">3</text>
<text transform="translate(367.22 166.56) scale(0.900 1.100)" font-size="7.6" text-anchor="middle" fill="#0a0a0a" font-family="'NanumGothic', 'Liberation Sans', sans-serif" stroke="#0a0a0a" stroke-width="0.25">4</text>
<text transform="translate(358.21 175.87) scale(0.900 1.100)" font-size="7.6" text-anchor="middle" fill="#0a0a0a" font-family="'NanumGothic', 'Liberation Sans', sans-serif" stroke="#0a0a0a" stroke-width="0.25">1</text>
<rect x="344.70" y="37.40" width="189.90" height="140.00" fill="none" stroke="#707070" stroke-width="0.9"/>
<line x1="342.20" y1="172.90" x2="344.30" y2="172.90" stroke="#222222" stroke-width="1.1"/>
<text transform="translate(340.70 175.63) scale(0.920 1.000)" font-size="7.8" text-anchor="end" fill="#484848" stroke="#484848" stroke-width="0.1">Bladder</text>
<line x1="342.20" y1="163.59" x2="344.30" y2="163.59" stroke="#222222" stroke-width="1.1"/>
<text transform="translate(340.70 166.32) scale(0.920 1.000)" font-size="7.8" text-anchor="end" fill="#484848" stroke="#484848" stroke-width="0.1">Breast</text>
<line x1="342.20" y1="154.29" x2="344.30" y2="154.29" stroke="#222222" stroke-width="1.1"/>
<text transform="translate(340.70 157.02) scale(0.920 1.000)" font-size="7.8" text-anchor="end" fill="#484848" stroke="#484848" stroke-width="0.1">Colorectal</text>
<line x1="342.20" y1="144.99" x2="344.30" y2="144.99" stroke="#222222" stroke-width="1.1"/>
<text transform="translate(340.70 147.72) scale(0.920 1.000)" font-size="7.8" text-anchor="end" fill="#484848" stroke="#484848" stroke-width="0.1">Gastroesophageal</text>
<line x1="342.20" y1="135.69" x2="344.30" y2="135.69" stroke="#222222" stroke-width="1.1"/>
<text transform="translate(340.70 138.41) scale(0.920 1.000)" font-size="7.8" text-anchor="end" fill="#484848" stroke="#484848" stroke-width="0.1">Kidney</text>
<line x1="342.20" y1="126.38" x2="344.30" y2="126.38" stroke="#222222" stroke-width="1.1"/>
<text transform="translate(340.70 129.11) scale(0.920 1.000)" font-size="7.8" text-anchor="end" fill="#484848" stroke="#484848" stroke-width="0.1">Liver</text>
<line x1="342.20" y1="117.08" x2="344.30" y2="117.08" stroke="#222222" stroke-width="1.1"/>
<text transform="translate(340.70 119.81) scale(0.920 1.000)" font-size="7.8" text-anchor="end" fill="#484848" stroke="#484848" stroke-width="0.1">Lung</text>
<line x1="342.20" y1="107.78" x2="344.30" y2="107.78" stroke="#222222" stroke-width="1.1"/>
<text transform="translate(340.70 110.51) scale(0.920 1.000)" font-size="7.8" text-anchor="end" fill="#484848" stroke="#484848" stroke-width="0.1">Melanoma</text>
<line x1="342.20" y1="98.47" x2="344.30" y2="98.47" stroke="#222222" stroke-width="1.1"/>
<text transform="translate(340.70 101.20) scale(0.920 1.000)" font-size="7.8" text-anchor="end" fill="#484848" stroke="#484848" stroke-width="0.1">Neuroendocrine</text>
<line x1="342.20" y1="89.17" x2="344.30" y2="89.17" stroke="#222222" stroke-width="1.1"/>
<text transform="translate(340.70 91.90) scale(0.920 1.000)" font-size="7.8" text-anchor="end" fill="#484848" stroke="#484848" stroke-width="0.1">Ovary/Fallopian tube</text>
<line x1="342.20" y1="79.86" x2="344.30" y2="79.86" stroke="#222222" stroke-width="1.1"/>
<text transform="translate(340.70 82.59) scale(0.920 1.000)" font-size="7.8" text-anchor="end" fill="#484848" stroke="#484848" stroke-width="0.1">Pancreas</text>
<line x1="342.20" y1="70.56" x2="344.30" y2="70.56" stroke="#222222" stroke-width="1.1"/>
<text transform="translate(340.70 73.29) scale(0.920 1.000)" font-size="7.8" text-anchor="end" fill="#484848" stroke="#484848" stroke-width="0.1">Prostate</text>
<line x1="342.20" y1="61.26" x2="344.30" y2="61.26" stroke="#222222" stroke-width="1.1"/>
<text transform="translate(340.70 63.99) scale(0.920 1.000)" font-size="7.8" text-anchor="end" fill="#484848" stroke="#484848" stroke-width="0.1">Sarcoma</text>
<line x1="342.20" y1="51.95" x2="344.30" y2="51.95" stroke="#222222" stroke-width="1.1"/>
<text transform="translate(340.70 54.68) scale(0.920 1.000)" font-size="7.8" text-anchor="end" fill="#484848" stroke="#484848" stroke-width="0.1">SCC</text>
<line x1="342.20" y1="42.65" x2="344.30" y2="42.65" stroke="#222222" stroke-width="1.1"/>
<text transform="translate(340.70 45.38) scale(0.920 1.000)" font-size="7.8" text-anchor="end" fill="#484848" stroke="#484848" stroke-width="0.1">unclassified</text>
<line x1="349.20" y1="177.95" x2="349.20" y2="180.05" stroke="#222222" stroke-width="1.1"/>
<text transform="translate(351.53 182.45) rotate(-90) scale(1.065 1.000)" font-size="7.5" text-anchor="end" fill="#484848" stroke="#484848" stroke-width="0.1">Adrenal</text>
<line x1="358.21" y1="177.95" x2="358.21" y2="180.05" stroke="#222222" stroke-width="1.1"/>
<text transform="translate(360.54 182.45) rotate(-90) scale(1.065 1.000)" font-size="7.5" text-anchor="end" fill="#484848" stroke="#484848" stroke-width="0.1">Bladder</text>
<line x1="367.22" y1="177.95" x2="367.22" y2="180.05" stroke="#222222" stroke-width="1.1"/>
<text transform="translate(369.55 182.45) rotate(-90) scale(1.065 1.000)" font-size="7.5" text-anchor="end" fill="#484848" stroke="#484848" stroke-width="0.1">Breast</text>
<line x1="376.23" y1="177.95" x2="376.23" y2="180.05" stroke="#222222" stroke-width="1.1"/>
<text transform="translate(378.56 182.45) rotate(-90) scale(1.065 1.000)" font-size="7.5" text-anchor="end" fill="#484848" stroke="#484848" stroke-width="0.1">Cholangio</text>
<line x1="385.24" y1="177.95" x2="385.24" y2="180.05" stroke="#222222" stroke-width="1.1"/>
<text transform="translate(387.57 182.45) rotate(-90) scale(1.065 1.000)" font-size="7.5" text-anchor="end" fill="#484848" stroke="#484848" stroke-width="0.1">Colorectal</text>
<line x1="394.25" y1="177.95" x2="394.25" y2="180.05" stroke="#222222" stroke-width="1.1"/>
<text transform="translate(396.58 182.45) rotate(-90) scale(1.065 1.000)" font-size="7.5" text-anchor="end" fill="#484848" stroke="#484848" stroke-width="0.1">Gastroesophageal</text>
<line x1="403.26" y1="177.95" x2="403.26" y2="180.05" stroke="#222222" stroke-width="1.1"/>
<text transform="translate(405.59 182.45) rotate(-90) scale(1.065 1.000)" font-size="7.5" text-anchor="end" fill="#484848" stroke="#484848" stroke-width="0.1">Kidney</text>
<line x1="412.27" y1="177.95" x2="412.27" y2="180.05" stroke="#222222" stroke-width="1.1"/>
<text transform="translate(414.60 182.45) rotate(-90) scale(1.065 1.000)" font-size="7.5" text-anchor="end" fill="#484848" stroke="#484848" stroke-width="0.1">Lung</text>
<line x1="421.28" y1="177.95" x2="421.28" y2="180.05" stroke="#222222" stroke-width="1.1"/>
<text transform="translate(423.61 182.45) rotate(-90) scale(1.065 1.000)" font-size="7.5" text-anchor="end" fill="#484848" stroke="#484848" stroke-width="0.1">Melanoma</text>
<line x1="430.29" y1="177.95" x2="430.29" y2="180.05" stroke="#222222" stroke-width="1.1"/>
<text transform="translate(432.62 182.45) rotate(-90) scale(1.065 1.000)" font-size="7.5" text-anchor="end" fill="#484848" stroke="#484848" stroke-width="0.1">Mesothelioma</text>
<line x1="439.30" y1="177.95" x2="439.30" y2="180.05" stroke="#222222" stroke-width="1.1"/>
<text transform="translate(441.62 182.45) rotate(-90) scale(1.065 1.000)" font-size="7.5" text-anchor="end" fill="#484848" stroke="#484848" stroke-width="0.1">Ovary/Fallopian tube</text>
<line x1="448.31" y1="177.95" x2="448.31" y2="180.05" stroke="#222222" stroke-width="1.1"/>
<text transform="translate(450.63 182.45) rotate(-90) scale(1.065 1.000)" font-size="7.5" text-anchor="end" fill="#484848" stroke="#484848" stroke-width="0.1">Pancreas</text>
<line x1="457.32" y1="177.95" x2="457.32" y2="180.05" stroke="#222222" stroke-width="1.1"/>
<text transform="translate(459.64 182.45) rotate(-90) scale(1.065 1.000)" font-size="7.5" text-anchor="end" fill="#484848" stroke="#484848" stroke-width="0.1">Pancreatic NET</text>
<line x1="466.33" y1="177.95" x2="466.33" y2="180.05" stroke="#222222" stroke-width="1.1"/>
<text transform="translate(468.65 182.45) rotate(-90) scale(1.065 1.000)" font-size="7.5" text-anchor="end" fill="#484848" stroke="#484848" stroke-width="0.1">Prostate</text>
<line x1="475.34" y1="177.95" x2="475.34" y2="180.05" stroke="#222222" stroke-width="1.1"/>
<text transform="translate(477.66 182.45) rotate(-90) scale(1.065 1.000)" font-size="7.5" text-anchor="end" fill="#484848" stroke="#484848" stroke-width="0.1">Sarcoma</text>
<line x1="484.35" y1="177.95" x2="484.35" y2="180.05" stroke="#222222" stroke-width="1.1"/>
<text transform="translate(486.67 182.45) rotate(-90) scale(1.065 1.000)" font-size="7.5" text-anchor="end" fill="#484848" stroke="#484848" stroke-width="0.1">SCC cutaneous</text>
<line x1="493.36" y1="177.95" x2="493.36" y2="180.05" stroke="#222222" stroke-width="1.1"/>
<text transform="translate(495.68 182.45) rotate(-90) scale(1.065 1.000)" font-size="7.5" text-anchor="end" fill="#484848" stroke="#484848" stroke-width="0.1">SCC esophogastric</text>
<line x1="502.37" y1="177.95" x2="502.37" y2="180.05" stroke="#222222" stroke-width="1.1"/>
<text transform="translate(504.69 182.45) rotate(-90) scale(1.065 1.000)" font-size="7.5" text-anchor="end" fill="#484848" stroke="#484848" stroke-width="0.1">SCC Penile</text>
<line x1="511.38" y1="177.95" x2="511.38" y2="180.05" stroke="#222222" stroke-width="1.1"/>
<text transform="translate(513.70 182.45) rotate(-90) scale(1.065 1.000)" font-size="7.5" text-anchor="end" fill="#484848" stroke="#484848" stroke-width="0.1">SCC Thymus</text>
<line x1="520.39" y1="177.95" x2="520.39" y2="180.05" stroke="#222222" stroke-width="1.1"/>
<text transform="translate(522.71 182.45) rotate(-90) scale(1.065 1.000)" font-size="7.5" text-anchor="end" fill="#484848" stroke="#484848" stroke-width="0.1">SCC Tonsil</text>
<line x1="529.40" y1="177.95" x2="529.40" y2="180.05" stroke="#222222" stroke-width="1.1"/>
<text transform="translate(531.72 182.45) rotate(-90) scale(1.065 1.000)" font-size="7.5" text-anchor="end" fill="#484848" stroke="#484848" stroke-width="0.1">Thyroid</text>
<text transform="translate(28.60 104.80) rotate(-90)" font-size="9.1" text-anchor="middle" fill="#000" stroke="#000" stroke-width="0.06">GEP Classification</text>
<text transform="translate(179.60 265.40)" font-size="8.8" text-anchor="middle" fill="#000" stroke="#000" stroke-width="0.06">Known metastatic cancer</text>
<text transform="translate(269.80 106.00) rotate(-90)" font-size="8.9" text-anchor="middle" fill="#000" stroke="#000" stroke-width="0.06">GEP Classification</text>
<text transform="translate(441.00 277.40)" font-size="8.65" text-anchor="middle" fill="#000" stroke="#000" stroke-width="0.06">Latent Primary and Clinicopathology</text>
<text transform="translate(441.80 287.20)" font-size="8.65" text-anchor="middle" fill="#000" stroke="#000" stroke-width="0.06">Resolved CUP</text>
<text transform="translate(61.50 216.20)" font-size="6.3" text-anchor="start" fill="#000" stroke="#000" stroke-width="0.06">Fraction</text>
<text transform="translate(61.50 223.10)" font-size="6.3" text-anchor="start" fill="#000" stroke="#000" stroke-width="0.06">prediction</text>
<defs><linearGradient id="g61" x1="0" y1="0" x2="0" y2="1"><stop offset="0.0000" stop-color="#4fc4f6"/><stop offset="0.2894" stop-color="#8ad6f3"/><stop offset="0.5787" stop-color="#bbe6f0"/><stop offset="0.8681" stop-color="#e4f3e6"/><stop offset="1.0000" stop-color="#fbfbd6"/></linearGradient></defs>
<rect x="61.30" y="230.00" width="9.80" height="51.10" fill="url(#g61)"/>
<text transform="translate(74.40 234.05)" font-size="6.3" text-anchor="start" fill="#000" stroke="#000" stroke-width="0.06">1.00</text>
<text transform="translate(74.40 248.35)" font-size="6.3" text-anchor="start" fill="#000" stroke="#000" stroke-width="0.06">0.75</text>
<line x1="61.30" y1="246.10" x2="63.26" y2="246.10" stroke="#ffffff" stroke-width="0.35"/>
<line x1="69.14" y1="246.10" x2="71.10" y2="246.10" stroke="#ffffff" stroke-width="0.35"/>
<text transform="translate(74.40 262.55)" font-size="6.3" text-anchor="start" fill="#000" stroke="#000" stroke-width="0.06">0.50</text>
<line x1="61.30" y1="260.30" x2="63.26" y2="260.30" stroke="#ffffff" stroke-width="0.35"/>
<line x1="69.14" y1="260.30" x2="71.10" y2="260.30" stroke="#ffffff" stroke-width="0.35"/>
<text transform="translate(74.40 276.95)" font-size="6.3" text-anchor="start" fill="#000" stroke="#000" stroke-width="0.06">0.25</text>
<line x1="61.30" y1="274.70" x2="63.26" y2="274.70" stroke="#ffffff" stroke-width="0.35"/>
<line x1="69.14" y1="274.70" x2="71.10" y2="274.70" stroke="#ffffff" stroke-width="0.35"/>
<text transform="translate(303.80 216.20)" font-size="6.3" text-anchor="start" fill="#000" stroke="#000" stroke-width="0.06">Fraction</text>
<text transform="translate(303.80 223.10)" font-size="6.3" text-anchor="start" fill="#000" stroke="#000" stroke-width="0.06">prediction</text>
<defs><linearGradient id="g303" x1="0" y1="0" x2="0" y2="1"><stop offset="0.0000" stop-color="#4fc4f6"/><stop offset="0.2894" stop-color="#8ad6f3"/><stop offset="0.5787" stop-color="#bbe6f0"/><stop offset="0.8681" stop-color="#e4f3e6"/><stop offset="1.0000" stop-color="#fbfbd6"/></linearGradient></defs>
<rect x="303.80" y="229.80" width="9.60" height="51.10" fill="url(#g303)"/>
<text transform="translate(316.90 233.15)" font-size="6.3" text-anchor="start" fill="#000" stroke="#000" stroke-width="0.06">1.00</text>
<text transform="translate(316.90 247.45)" font-size="6.3" text-anchor="start" fill="#000" stroke="#000" stroke-width="0.06">0.75</text>
<line x1="303.80" y1="245.20" x2="305.72" y2="245.20" stroke="#ffffff" stroke-width="0.35"/>
<line x1="311.48" y1="245.20" x2="313.40" y2="245.20" stroke="#ffffff" stroke-width="0.35"/>
<text transform="translate(316.90 261.85)" font-size="6.3" text-anchor="start" fill="#000" stroke="#000" stroke-width="0.06">0.50</text>
<line x1="303.80" y1="259.60" x2="305.72" y2="259.60" stroke="#ffffff" stroke-width="0.35"/>
<line x1="311.48" y1="259.60" x2="313.40" y2="259.60" stroke="#ffffff" stroke-width="0.35"/>
<text transform="translate(316.90 276.05)" font-size="6.3" text-anchor="start" fill="#000" stroke="#000" stroke-width="0.06">0.25</text>
<line x1="303.80" y1="273.80" x2="305.72" y2="273.80" stroke="#ffffff" stroke-width="0.35"/>
<line x1="311.48" y1="273.80" x2="313.40" y2="273.80" stroke="#ffffff" stroke-width="0.35"/>
<rect x="83.90" y="359.98" width="13.70" height="107.72" fill="#fb766d"/>
<rect x="97.60" y="410.67" width="13.70" height="57.03" fill="#00bfc4"/>
<rect x="114.30" y="441.02" width="13.70" height="26.68" fill="#fb766d"/>
<rect x="128.00" y="431.35" width="13.70" height="36.35" fill="#00bfc4"/>
<rect x="144.70" y="442.35" width="13.70" height="25.35" fill="#fb766d"/>
<rect x="158.40" y="414.01" width="13.70" height="53.69" fill="#00bfc4"/>
<rect x="175.20" y="461.20" width="13.70" height="6.50" fill="#fb766d"/>
<rect x="188.90" y="448.02" width="13.70" height="19.68" fill="#00bfc4"/>
<line x1="79.60" y1="354.40" x2="79.60" y2="473.50" stroke="#0a0a0a" stroke-width="1.2"/>
<line x1="79.05" y1="473.00" x2="217.00" y2="473.00" stroke="#0a0a0a" stroke-width="1.2"/>
<line x1="76.70" y1="467.70" x2="79.10" y2="467.70" stroke="#1a1a1a" stroke-width="1.05"/>
<text transform="translate(75.20 470.15) scale(1.000 1.080)" font-size="7.5" text-anchor="end" fill="#484848" stroke="#484848" stroke-width="0.1">0%</text>
<line x1="76.70" y1="434.35" x2="79.10" y2="434.35" stroke="#1a1a1a" stroke-width="1.05"/>
<text transform="translate(75.20 436.80) scale(1.000 1.080)" font-size="7.5" text-anchor="end" fill="#484848" stroke="#484848" stroke-width="0.1">20%</text>
<line x1="76.70" y1="401.00" x2="79.10" y2="401.00" stroke="#1a1a1a" stroke-width="1.05"/>
<text transform="translate(75.20 403.45) scale(1.000 1.080)" font-size="7.5" text-anchor="end" fill="#484848" stroke="#484848" stroke-width="0.1">40%</text>
<line x1="76.70" y1="367.65" x2="79.10" y2="367.65" stroke="#1a1a1a" stroke-width="1.05"/>
<text transform="translate(75.20 370.10) scale(1.000 1.080)" font-size="7.5" text-anchor="end" fill="#484848" stroke="#484848" stroke-width="0.1">60%</text>
<line x1="97.60" y1="473.50" x2="97.60" y2="476.20" stroke="#1a1a1a" stroke-width="1.05"/>
<text transform="translate(94.70 485.30) scale(1.000 1.080)" font-size="7.4" text-anchor="middle" fill="#484848" stroke="#484848" stroke-width="0.1">High</text>
<line x1="128.00" y1="473.50" x2="128.00" y2="476.20" stroke="#1a1a1a" stroke-width="1.05"/>
<text transform="translate(125.20 485.30) scale(1.000 1.080)" font-size="7.4" text-anchor="middle" fill="#484848" stroke="#484848" stroke-width="0.1">Med</text>
<line x1="158.40" y1="473.50" x2="158.40" y2="476.20" stroke="#1a1a1a" stroke-width="1.05"/>
<text transform="translate(155.80 485.30) scale(1.000 1.080)" font-size="7.4" text-anchor="middle" fill="#484848" stroke="#484848" stroke-width="0.1">Low</text>
<line x1="188.90" y1="473.50" x2="188.90" y2="476.20" stroke="#1a1a1a" stroke-width="1.05"/>
<text transform="translate(189.60 485.30) scale(1.000 1.080)" font-size="7.4" text-anchor="middle" fill="#484848" stroke="#484848" stroke-width="0.1">unclassified</text>
<text transform="translate(142.80 499.60) scale(1.000 1.060)" font-size="8.5" text-anchor="middle" fill="#000" stroke="#000" stroke-width="0.06">Confidence level</text>
<text transform="translate(52.60 417.00) rotate(-90) scale(1.060 1.100)" font-size="8.6" text-anchor="middle" fill="#000" stroke="#000" stroke-width="0.06">Proportion</text>
<rect x="186.00" y="369.60" width="8.40" height="10.40" fill="#fb766d"/>
<rect x="186.00" y="381.60" width="8.40" height="10.40" fill="#00bfc4"/>
<text transform="translate(199.00 378.30)" font-size="6.4" text-anchor="start" fill="#000" stroke="#000" stroke-width="0.06">Known tumours</text>
<text transform="translate(199.00 390.90)" font-size="6.4" text-anchor="start" fill="#000" stroke="#000" stroke-width="0.06">T−CUP</text>
<rect x="312.20" y="404.34" width="14.40" height="49.86" fill="#595959"/>
<line x1="319.40" y1="459.20" x2="319.40" y2="461.60" stroke="#1a1a1a" stroke-width="1.05"/>
<text transform="translate(322.40 463.00) rotate(-90) scale(1.100 1.000)" font-size="7.4" text-anchor="end" fill="#484848" stroke="#484848" stroke-width="0.1">SCC</text>
<rect x="328.42" y="434.29" width="14.40" height="19.91" fill="#595959"/>
<line x1="335.62" y1="459.20" x2="335.62" y2="461.60" stroke="#1a1a1a" stroke-width="1.05"/>
<text transform="translate(338.62 463.00) rotate(-90) scale(1.100 1.000)" font-size="7.4" text-anchor="end" fill="#484848" stroke="#484848" stroke-width="0.1">Liver</text>
<rect x="344.64" y="436.26" width="14.40" height="17.94" fill="#595959"/>
<line x1="351.84" y1="459.20" x2="351.84" y2="461.60" stroke="#1a1a1a" stroke-width="1.05"/>
<text transform="translate(354.84 463.00) rotate(-90) scale(1.100 1.000)" font-size="7.4" text-anchor="end" fill="#484848" stroke="#484848" stroke-width="0.1">Colorectal</text>
<rect x="360.86" y="439.76" width="14.40" height="14.44" fill="#595959"/>
<line x1="368.06" y1="459.20" x2="368.06" y2="461.60" stroke="#1a1a1a" stroke-width="1.05"/>
<text transform="translate(371.06 463.00) rotate(-90) scale(1.100 1.000)" font-size="7.4" text-anchor="end" fill="#484848" stroke="#484848" stroke-width="0.1">Breast</text>
<rect x="377.08" y="441.89" width="14.40" height="12.31" fill="#595959"/>
<line x1="384.28" y1="459.20" x2="384.28" y2="461.60" stroke="#1a1a1a" stroke-width="1.05"/>
<text transform="translate(387.28 463.00) rotate(-90) scale(1.100 1.000)" font-size="7.4" text-anchor="end" fill="#484848" stroke="#484848" stroke-width="0.1">Lung</text>
<rect x="393.30" y="448.88" width="14.40" height="5.32" fill="#595959"/>
<line x1="400.50" y1="459.20" x2="400.50" y2="461.60" stroke="#1a1a1a" stroke-width="1.05"/>
<text transform="translate(403.50 463.00) rotate(-90) scale(1.100 1.000)" font-size="7.4" text-anchor="end" fill="#484848" stroke="#484848" stroke-width="0.1">Cholangiocarcinoma</text>
<rect x="409.52" y="448.88" width="14.40" height="5.32" fill="#595959"/>
<line x1="416.72" y1="459.20" x2="416.72" y2="461.60" stroke="#1a1a1a" stroke-width="1.05"/>
<text transform="translate(419.72 463.00) rotate(-90) scale(1.100 1.000)" font-size="7.4" text-anchor="end" fill="#484848" stroke="#484848" stroke-width="0.1">Gastroesophageal</text>
<rect x="425.74" y="448.88" width="14.40" height="5.32" fill="#595959"/>
<line x1="432.94" y1="459.20" x2="432.94" y2="461.60" stroke="#1a1a1a" stroke-width="1.05"/>
<text transform="translate(435.94 463.00) rotate(-90) scale(1.100 1.000)" font-size="7.4" text-anchor="end" fill="#484848" stroke="#484848" stroke-width="0.1">Kidney</text>
<rect x="441.96" y="448.88" width="14.40" height="5.32" fill="#595959"/>
<line x1="449.16" y1="459.20" x2="449.16" y2="461.60" stroke="#1a1a1a" stroke-width="1.05"/>
<text transform="translate(452.16 463.00) rotate(-90) scale(1.100 1.000)" font-size="7.4" text-anchor="end" fill="#484848" stroke="#484848" stroke-width="0.1">Ovary/Fallopian tube</text>
<rect x="458.18" y="450.70" width="14.40" height="3.50" fill="#595959"/>
<line x1="465.38" y1="459.20" x2="465.38" y2="461.60" stroke="#1a1a1a" stroke-width="1.05"/>
<text transform="translate(468.38 463.00) rotate(-90) scale(1.100 1.000)" font-size="7.4" text-anchor="end" fill="#484848" stroke="#484848" stroke-width="0.1">Neuroendocrine</text>
<rect x="474.40" y="450.70" width="14.40" height="3.50" fill="#595959"/>
<line x1="481.60" y1="459.20" x2="481.60" y2="461.60" stroke="#1a1a1a" stroke-width="1.05"/>
<text transform="translate(484.60 463.00) rotate(-90) scale(1.100 1.000)" font-size="7.4" text-anchor="end" fill="#484848" stroke="#484848" stroke-width="0.1">Pancreas</text>
<rect x="490.62" y="452.53" width="14.40" height="1.67" fill="#595959"/>
<line x1="497.82" y1="459.20" x2="497.82" y2="461.60" stroke="#1a1a1a" stroke-width="1.05"/>
<text transform="translate(500.82 463.00) rotate(-90) scale(1.100 1.000)" font-size="7.4" text-anchor="end" fill="#484848" stroke="#484848" stroke-width="0.1">Bladder</text>
<rect x="506.84" y="452.53" width="14.40" height="1.67" fill="#595959"/>
<line x1="514.04" y1="459.20" x2="514.04" y2="461.60" stroke="#1a1a1a" stroke-width="1.05"/>
<text transform="translate(517.04 463.00) rotate(-90) scale(1.100 1.000)" font-size="7.4" text-anchor="end" fill="#484848" stroke="#484848" stroke-width="0.1">Mesothelioma</text>
<rect x="523.06" y="452.53" width="14.40" height="1.67" fill="#595959"/>
<line x1="530.26" y1="459.20" x2="530.26" y2="461.60" stroke="#1a1a1a" stroke-width="1.05"/>
<text transform="translate(533.26 463.00) rotate(-90) scale(1.100 1.000)" font-size="7.4" text-anchor="end" fill="#484848" stroke="#484848" stroke-width="0.1">Sarcoma</text>
<line x1="309.50" y1="358.40" x2="309.50" y2="459.20" stroke="#0a0a0a" stroke-width="1.2"/>
<line x1="308.95" y1="458.70" x2="539.40" y2="458.70" stroke="#0a0a0a" stroke-width="1.2"/>
<line x1="306.60" y1="454.20" x2="309.00" y2="454.20" stroke="#1a1a1a" stroke-width="1.05"/>
<text transform="translate(305.00 456.95) scale(1.000 1.040)" font-size="7.8" text-anchor="end" fill="#484848" stroke="#484848" stroke-width="0.1">0%</text>
<line x1="306.60" y1="423.80" x2="309.00" y2="423.80" stroke="#1a1a1a" stroke-width="1.05"/>
<text transform="translate(305.00 426.55) scale(1.000 1.040)" font-size="7.8" text-anchor="end" fill="#484848" stroke="#484848" stroke-width="0.1">20%</text>
<line x1="306.60" y1="393.40" x2="309.00" y2="393.40" stroke="#1a1a1a" stroke-width="1.05"/>
<text transform="translate(305.00 396.15) scale(1.000 1.040)" font-size="7.8" text-anchor="end" fill="#484848" stroke="#484848" stroke-width="0.1">40%</text>
<line x1="306.60" y1="363.00" x2="309.00" y2="363.00" stroke="#1a1a1a" stroke-width="1.05"/>
<text transform="translate(305.00 365.75) scale(1.000 1.040)" font-size="7.8" text-anchor="end" fill="#484848" stroke="#484848" stroke-width="0.1">60%</text>
<text transform="translate(432.40 551.40) scale(1.000 1.060)" font-size="8.6" text-anchor="middle" fill="#000" stroke="#000" stroke-width="0.06">GEP Classification</text>
<text transform="translate(285.20 408.40) rotate(-90) scale(1.170 1.000)" font-size="8.8" text-anchor="middle" fill="#000" stroke="#000" stroke-width="0.06">Proportion</text>
</svg>
</body>
</html>
